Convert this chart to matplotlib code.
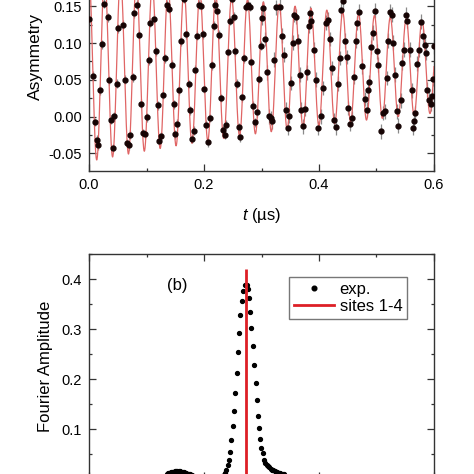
import numpy as np
import matplotlib
matplotlib.use("Agg")
import matplotlib.pyplot as plt
from matplotlib.ticker import MultipleLocator, FormatStrFormatter

plt.rcParams['font.family'] = ['Liberation Sans', 'DejaVu Sans']
plt.rcParams['mathtext.fontset'] = 'custom'
plt.rcParams['mathtext.it'] = 'Liberation Sans:italic'
plt.rcParams['mathtext.rm'] = 'Liberation Sans'

# ── (a) time spectrum: data points ──
t_us = [0.0005, 0.0064, 0.0104, 0.0134, 0.0162, 0.0191, 0.0221, 0.0261, 0.0325, 0.0353,
        0.0383, 0.0412, 0.0440, 0.0482, 0.0504, 0.0597, 0.0631, 0.0661, 0.0690, 0.0718,
        0.0760, 0.0788, 0.0835, 0.0875, 0.0910, 0.0944, 0.0974, 0.1003, 0.1038, 0.1066,
        0.1136, 0.1165, 0.1195, 0.1223, 0.1252, 0.1292, 0.1322, 0.1351, 0.1397, 0.1443,
        0.1473, 0.1496, 0.1530, 0.1570, 0.1605, 0.1647, 0.1687, 0.1734, 0.1762, 0.1791,
        0.1821, 0.1849, 0.1883, 0.1908, 0.1948, 0.1977, 0.2005, 0.2040, 0.2070, 0.2099,
        0.2134, 0.2169, 0.2197, 0.2226, 0.2256, 0.2290, 0.2325, 0.2360, 0.2388, 0.2417,
        0.2457, 0.2487, 0.2517, 0.2544, 0.2574, 0.2603, 0.2631, 0.2661, 0.2696, 0.2730,
        0.2765, 0.2795, 0.2823, 0.2852, 0.2882, 0.2922, 0.2951, 0.2986, 0.3009, 0.3026,
        0.3056, 0.3101, 0.3130, 0.3160, 0.3188, 0.3217, 0.3257, 0.3317, 0.3357, 0.3391,
        0.3431, 0.3461, 0.3478, 0.3508, 0.3543, 0.3565, 0.3605, 0.3635, 0.3670, 0.3692,
        0.3722, 0.3751, 0.3791, 0.3821, 0.3838, 0.3866, 0.3913, 0.3943, 0.3983, 0.4040,
        0.4070, 0.4117, 0.4157, 0.4186, 0.4226, 0.4261, 0.4290, 0.4330, 0.4360, 0.4388,
        0.4417, 0.4452, 0.4482, 0.4510, 0.4539, 0.4570, 0.4609, 0.4639, 0.4667, 0.4696,
        0.4753, 0.4795, 0.4830, 0.4853, 0.4875, 0.4910, 0.4944, 0.4974, 0.5003, 0.5031,
        0.5073, 0.5113, 0.5148, 0.5177, 0.5205, 0.5235, 0.5264, 0.5292, 0.5322, 0.5351,
        0.5379, 0.5421, 0.5449, 0.5478, 0.5508, 0.5536, 0.5577, 0.5612, 0.5635, 0.5652,
        0.5675, 0.5710, 0.5739, 0.5779, 0.5809, 0.5838, 0.5856, 0.5884, 0.5913, 0.5943,
        0.5966, 0.5988, 0.6000]
asym = [0.1326, 0.0556, -0.0073, -0.0314, -0.0391, 0.0356, 0.0986, 0.1534, 0.1353, 0.0492,
        -0.0042, -0.0427, 0.0003, 0.0447, 0.1204, 0.1249, 0.0501, -0.0359, -0.0391, -0.0246,
        0.0533, 0.1408, 0.1520, 0.1113, 0.0175, -0.0223, -0.0242, -0.0011, 0.0764, 0.1280,
        0.1330, 0.0886, 0.0152, -0.0332, -0.0269, 0.0298, 0.0796, 0.1520, 0.1466, 0.0705,
        0.0166, -0.0242, -0.0096, 0.0356, 0.1022, 0.1600, 0.1122, 0.0443, 0.0084, -0.0300,
        -0.0192, 0.0637, 0.1099, 0.1520, 0.1511, 0.1122, 0.0375, -0.0110, -0.0351, -0.0019,
        0.0696, 0.1235, 0.1524, 0.1443, 0.1113, 0.0253, -0.0188, -0.0246, -0.0110, 0.0878,
        0.1307, 0.1600, 0.1361, 0.0886, 0.0447, -0.0147, -0.0283, 0.0261, 0.0796, 0.1497,
        0.1520, 0.1497, 0.0742, 0.0148, -0.0079, 0.0057, 0.0511, 0.0967, 0.1340, 0.1476,
        0.1054, 0.0601, 0.0003, -0.0019, -0.0065, 0.0773, 0.1489, 0.1497, 0.1099, 0.0841,
        0.0094, -0.0155, 0.0012, 0.0457, 0.1008, 0.1385, 0.1361, 0.1022, 0.0569, 0.0094,
        -0.0133, 0.0103, 0.0601, 0.1235, 0.1408, 0.1307, 0.0909, 0.0501, -0.0155, 0.0003,
        0.0389, 0.1280, 0.1317, 0.1054, 0.0660, -0.0052, -0.0147, 0.0447, 0.0796, 0.1452,
        0.1570, 0.1035, 0.0810, 0.0117, -0.0096, -0.0019, 0.0538, 0.1035, 0.1272, 0.1429,
        0.0682, 0.0239, 0.0094, 0.0356, 0.0465, 0.0946, 0.1144, 0.1439, 0.0886, 0.0705,
        -0.0201, 0.0049, 0.0071, 0.0524, 0.1031, 0.1429, 0.1385, 0.1008, 0.0569, 0.0071,
        -0.0124, 0.0220, 0.0736, 0.0909, 0.1385, 0.1307, 0.0909, 0.0356, -0.0155, -0.0065,
        0.0049, 0.0719, 0.0909, 0.1293, 0.1090, 0.0977, 0.0864, 0.0365, 0.0230, 0.0175,
        0.0274, 0.0511, 0.0954]
err_early, err_late, err_split = 0.006, 0.010, 0.3

# fit curve parameters (damped precession)
fit_offset, fit_amp, fit_freq_mhz, fit_phase, fit_damp = 0.067, 0.128, 36.23, 0.091, 1.2

# ── (b) Fourier spectrum ──
freq_x = [0.1350, 0.1373, 0.1396, 0.1419, 0.1442, 0.1465, 0.1488, 0.1511, 0.1534, 0.1557,
          0.1580, 0.1603, 0.1626, 0.1649, 0.1672, 0.1695, 0.1718, 0.1741, 0.1764, 0.1787,
          0.2320, 0.2343, 0.2365, 0.2388, 0.2412, 0.2430, 0.2452, 0.2470, 0.2499, 0.2517,
          0.2544, 0.2569, 0.2591, 0.2614, 0.2631, 0.2661, 0.2683, 0.2713, 0.2743, 0.2760,
          0.2777, 0.2800, 0.2823, 0.2847, 0.2870, 0.2899, 0.2917, 0.2934, 0.2951, 0.2974,
          0.2991, 0.3021, 0.3043, 0.3066, 0.3090, 0.3113, 0.3136, 0.3160, 0.3183, 0.3205,
          0.3228, 0.3250, 0.3273, 0.3297, 0.3320, 0.3343, 0.3367, 0.3390]
fourier_amp = [0.0100, 0.0115, 0.0128, 0.0138, 0.0146, 0.0152, 0.0156, 0.0158, 0.0159, 0.0158,
               0.0156, 0.0152, 0.0147, 0.0140, 0.0132, 0.0123, 0.0114, 0.0105, 0.0096, 0.0088,
               0.0070, 0.0090, 0.0129, 0.0183, 0.0283, 0.0382, 0.0548, 0.0775, 0.1060, 0.1359,
               0.1723, 0.2122, 0.2534, 0.2926, 0.3285, 0.3570, 0.3769, 0.3888, 0.3888, 0.3803,
               0.3616, 0.3351, 0.3018, 0.2653, 0.2275, 0.1922, 0.1578, 0.1273, 0.1014, 0.0795,
               0.0627, 0.0516, 0.0382, 0.0333, 0.0293, 0.0263, 0.0237, 0.0213, 0.0193, 0.0177,
               0.0163, 0.0149, 0.0137, 0.0127, 0.0120, 0.0112, 0.0105, 0.0098]
site_pos = 0.2730
site_height = 0.42

spine_col = '#333333'

def style_axes(ax, ymajor, yminor):
    ax.xaxis.set_major_locator(MultipleLocator(0.2))
    ax.xaxis.set_minor_locator(MultipleLocator(0.1))
    ax.yaxis.set_major_locator(MultipleLocator(ymajor))
    ax.yaxis.set_minor_locator(MultipleLocator(yminor))
    ax.tick_params(which='both', direction='in', top=True, right=True,
                   width=0.9, color=spine_col, labelsize=10.5, pad=5)
    ax.tick_params(which='major', length=5)
    ax.tick_params(which='minor', length=2.5)
    for s in ax.spines.values():
        s.set_linewidth(1.0)
        s.set_color(spine_col)

fig = plt.figure(figsize=(4.74, 4.74), dpi=100)

# ── 1. panel (a) ──
ax1 = fig.add_axes([0.1878, 0.6392, 0.7278, 0.4823])
t_arr = np.array(t_us)
yerr = np.where(t_arr < err_split, err_early, err_late)
ax1.errorbar(t_us, asym, yerr=yerr, fmt='none', ecolor='#8a8a8a', elinewidth=0.9, zorder=2)
t_fit = np.linspace(0, 0.6, 3000)
a_fit = fit_offset + fit_amp * np.exp(-fit_damp * t_fit) * np.cos(2 * np.pi * fit_freq_mhz * t_fit + fit_phase)
ax1.plot(t_fit, a_fit, color='#e06565', lw=0.9, zorder=3)
ax1.plot(t_us, asym, 'o', color='#160404', ms=3.5, zorder=4)
ax1.set_xlim(0, 0.6)
ax1.set_ylim(-0.074, 0.237)
style_axes(ax1, 0.05, 0.025)
ax1.yaxis.set_major_formatter(FormatStrFormatter('%.2f'))
ax1.xaxis.set_major_formatter(FormatStrFormatter('%.1f'))
ax1.set_ylabel("Asymmetry", fontsize=12.5, labelpad=4)
ax1.set_xlabel("$t$ (µs)", fontsize=12, labelpad=10)

# ── 2. panel (b) ──
ax2 = fig.add_axes([0.1878, -0.011, 0.7278, 0.4751])
ax2.plot(freq_x, fourier_amp, 'o', color='black', ms=2.8, label='exp.', zorder=3)
ax2.vlines(site_pos, 0, site_height, color='#dd1f26', lw=2, zorder=4)
ax2.plot([], [], color='#dd1f26', lw=2, label='sites 1-4')
ax2.set_xlim(0, 0.6)
ax2.set_ylim(0, 0.45)
style_axes(ax2, 0.1, 0.05)
ax2.tick_params(labelbottom=False)
ax2.set_yticks([0.1, 0.2, 0.3, 0.4])
ax2.set_ylabel("Fourier Amplitude", fontsize=12, labelpad=6)
ax2.text(0.255, 0.862, "(b)", transform=ax2.transAxes, fontsize=12, ha='center', va='center')
leg = ax2.legend(loc='upper right', bbox_to_anchor=(0.9226, 0.899), borderaxespad=0,
                 fontsize=12, fancybox=False, framealpha=1, edgecolor='#777777',
                 handlelength=2.4, handletextpad=0.35, labelspacing=0.15, borderpad=0.3,
                 markerscale=1.2)
leg.get_frame().set_linewidth(1.0)

plt.savefig("out.png", dpi=100)
